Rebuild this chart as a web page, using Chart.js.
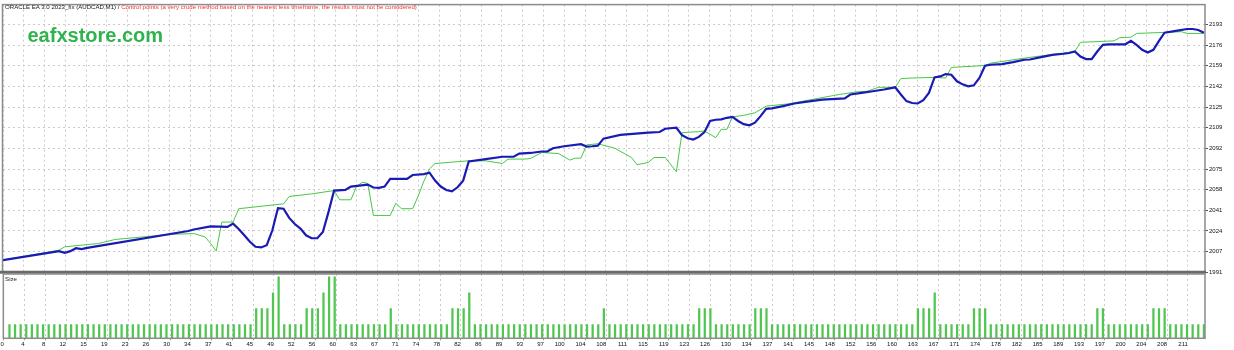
<!DOCTYPE html>
<html>
<head>
<meta charset="utf-8">
<script src="https://cdn.jsdelivr.net/npm/chart.js@4.4.1/dist/chart.umd.min.js"></script>
<style>
  html, body { margin: 0; padding: 0; background: #fff; }
  #wrap { position: relative; width: 1234px; height: 350px; overflow: hidden; font-family: "Liberation Sans", Arial, sans-serif; }
  #main { position: absolute; left: 0; top: 0; }
  #size { position: absolute; left: 0; top: 272px; }
  .title { position: absolute; left: 5px; top: 4px; font-size: 6.1px; line-height: 6.1px; white-space: nowrap; color: #222; }
  .title .red { color: #ee3333; }
  .brand { position: absolute; left: 27.5px; top: 25px; font: bold 20px/20px "Liberation Sans", Arial, sans-serif; color: #2fb34c; }
  .size-label { position: absolute; left: 5px; top: 276px; font-size: 6.2px; line-height: 6.2px; color: #222; }
</style>
</head>
<body>
<div id="wrap">
  <canvas id="main" width="1234" height="280"></canvas>
  <canvas id="size" width="1234" height="78"></canvas>
  <div class="title">ORACLE EA 3.0 2023_fix (AUDCAD,M1) / <span class="red">Control points (a very crude method based on the nearest less timeframe, the results must not be considered)</span></div>
  <div class="brand">eafxstore.com</div>
  <div class="size-label">Size</div>
</div>
<script>
// balance curve (trade number -> balance)
const balanceTrade = [0, 10, 11, 12, 13, 14, 15, 33, 34, 37, 40, 41, 42, 43, 44, 45, 46, 47, 48, 49,
  50, 51, 52, 53, 54, 55, 56, 57, 58, 59, 61, 62, 65, 66, 67, 68, 69, 72, 73, 75,
  76, 77, 78, 79, 80, 81, 82, 83, 86, 89, 91, 92, 94, 95, 96, 97, 98, 100, 103, 104,
  105, 106, 107, 110, 115, 117, 118, 120, 121, 122, 123, 124, 125, 126, 127, 128, 129, 130, 131, 132,
  133, 134, 135, 136, 137, 139, 141, 143, 146, 150, 151, 153, 155, 157, 159, 160, 161, 162, 163, 164,
  165, 166, 167, 168, 169, 170, 171, 172, 173, 174, 175, 176, 178, 180, 182, 183, 185, 187, 189, 190,
  191, 192, 193, 194, 195, 196, 197, 200, 201, 202, 203, 204, 205, 206, 207, 209, 211, 212, 213, 214];
const balanceValue = [2000.6, 2007.9, 2006.5, 2007.9, 2010.3, 2009.5, 2010.5, 2024.3, 2025.5, 2028.1, 2027.6, 2030.3, 2026.0, 2020.8, 2015.5, 2011.4, 2010.9, 2012.7, 2024.9, 2043.0,
  2042.5, 2035.0, 2030.0, 2026.3, 2020.8, 2018.4, 2018.4, 2023.5, 2039.7, 2057.3, 2057.9, 2060.6, 2062.2, 2059.8, 2059.5, 2060.6, 2066.8, 2066.8, 2070.0, 2070.8,
  2071.9, 2065.5, 2060.6, 2057.8, 2056.7, 2060.0, 2065.4, 2081.1, 2083.0, 2084.9, 2084.9, 2087.5, 2088.0, 2088.6, 2089.2, 2089.2, 2091.9, 2093.5, 2095.2, 2093.2,
  2093.5, 2094.0, 2099.7, 2102.7, 2104.6, 2105.1, 2107.8, 2108.6, 2102.5, 2100.0, 2098.9, 2101.1, 2105.0, 2114.1, 2115.1, 2115.4, 2116.7, 2117.5, 2114.1, 2111.5,
  2110.6, 2112.7, 2118.1, 2124.0, 2124.4, 2126.2, 2128.4, 2129.7, 2131.6, 2132.5, 2135.7, 2137.0, 2138.4, 2139.8, 2141.6, 2135.7, 2130.3, 2128.8, 2128.4, 2131.1,
  2137.0, 2149.7, 2150.5, 2152.4, 2151.9, 2146.5, 2144.0, 2142.4, 2143.2, 2149.2, 2159.2, 2160.0, 2160.5, 2162.1, 2164.1, 2164.3, 2166.2, 2168.1, 2169.0, 2169.6,
  2170.8, 2166.7, 2164.6, 2164.6, 2170.8, 2176.2, 2176.7, 2176.7, 2179.5, 2176.2, 2172.2, 2170.0, 2172.2, 2179.5, 2186.2, 2187.6, 2189.2, 2189.2, 2188.4, 2186.2];

// equity curve
const equityTrade = [0, 10, 11, 17, 20, 30, 34, 36, 37, 38, 39, 41, 42, 50, 51, 55, 59, 60, 62, 63,
  64, 65, 66, 69, 70, 71, 73, 74, 75, 76, 77, 83, 86, 89, 90, 93, 94, 96, 99, 101,
  102, 103, 104, 106, 109, 112, 113, 115, 116, 118, 120, 121, 124, 125, 127, 128, 129, 130, 132, 134,
  136, 140, 148, 149, 152, 154, 156, 159, 160, 162, 166, 168, 169, 175, 176, 182, 191, 192, 198, 199,
  201, 202, 207, 210, 211, 214];
const equityValue = [2000.6, 2008.7, 2011.4, 2014.1, 2017.4, 2021.6, 2022.2, 2019.5, 2014.1, 2007.9, 2031.6, 2031.6, 2042.5, 2046.5, 2052.5, 2054.6, 2057.3, 2049.8, 2049.8, 2060.6,
  2064.0, 2063.2, 2037.0, 2037.0, 2047.0, 2042.5, 2042.5, 2053.0, 2065.0, 2075.0, 2079.4, 2081.6, 2081.6, 2079.4, 2083.0, 2083.0, 2083.5, 2088.4, 2087.5, 2082.2,
  2083.8, 2083.8, 2094.6, 2095.5, 2091.9, 2084.3, 2078.4, 2080.3, 2084.3, 2084.3, 2072.7, 2104.6, 2105.4, 2106.0, 2100.5, 2107.3, 2107.3, 2117.5, 2118.7, 2120.8,
  2126.2, 2128.1, 2134.9, 2135.7, 2137.8, 2138.4, 2141.6, 2141.6, 2148.7, 2149.2, 2149.7, 2149.2, 2157.8, 2159.4, 2161.3, 2165.4, 2170.8, 2178.3, 2179.5, 2182.1,
  2182.5, 2185.6, 2186.4, 2187.0, 2185.6, 2185.6];

// lot size of trades 1..214
const sizeLots = [
  0.01, 0.01, 0.01, 0.01, 0.01, 0.01, 0.01, 0.01, 0.01, 0.01, 0.01, 0.01, 0.01, 0.01, 0.01, 0.01, 0.01, 0.01, 0.01, 0.01,
  0.01, 0.01, 0.01, 0.01, 0.01, 0.01, 0.01, 0.01, 0.01, 0.01, 0.01, 0.01, 0.01, 0.01, 0.01, 0.01, 0.01, 0.01, 0.01, 0.01,
  0.01, 0.01, 0.01, 0.01, 0.02, 0.02, 0.02, 0.03, 0.04, 0.01, 0.01, 0.01, 0.01, 0.02, 0.02, 0.02, 0.03, 0.04, 0.04, 0.01,
  0.01, 0.01, 0.01, 0.01, 0.01, 0.01, 0.01, 0.01, 0.02, 0.01, 0.01, 0.01, 0.01, 0.01, 0.01, 0.01, 0.01, 0.01, 0.01, 0.02,
  0.02, 0.02, 0.03, 0.01, 0.01, 0.01, 0.01, 0.01, 0.01, 0.01, 0.01, 0.01, 0.01, 0.01, 0.01, 0.01, 0.01, 0.01, 0.01, 0.01,
  0.01, 0.01, 0.01, 0.01, 0.01, 0.01, 0.02, 0.01, 0.01, 0.01, 0.01, 0.01, 0.01, 0.01, 0.01, 0.01, 0.01, 0.01, 0.01, 0.01,
  0.01, 0.01, 0.01, 0.02, 0.02, 0.02, 0.01, 0.01, 0.01, 0.01, 0.01, 0.01, 0.01, 0.02, 0.02, 0.02, 0.01, 0.01, 0.01, 0.01,
  0.01, 0.01, 0.01, 0.01, 0.01, 0.01, 0.01, 0.01, 0.01, 0.01, 0.01, 0.01, 0.01, 0.01, 0.01, 0.01, 0.01, 0.01, 0.01, 0.01,
  0.01, 0.01, 0.02, 0.02, 0.02, 0.03, 0.01, 0.01, 0.01, 0.01, 0.01, 0.01, 0.02, 0.02, 0.02, 0.01, 0.01, 0.01, 0.01, 0.01,
  0.01, 0.01, 0.01, 0.01, 0.01, 0.01, 0.01, 0.01, 0.01, 0.01, 0.01, 0.01, 0.01, 0.01, 0.02, 0.02, 0.01, 0.01, 0.01, 0.01,
  0.01, 0.01, 0.01, 0.01, 0.02, 0.02, 0.02, 0.01, 0.01, 0.01, 0.01, 0.01, 0.01, 0.01];

const xTickLabels = ['0', '4', '8', '12', '15', '19', '23', '26', '30', '34', '37', '41', '45', '49', '52', '56', '60', '63', '67', '71',
  '74', '78', '82', '86', '89', '93', '97', '100', '104', '108', '111', '115', '119', '123', '126', '130', '134', '137', '141', '145',
  '148', '152', '156', '160', '163', '167', '171', '174', '178', '182', '185', '189', '193', '197', '200', '204', '208', '211'];
const yTickValues = [1990.6, 2007.46, 2024.32, 2041.18, 2058.04, 2074.9, 2091.76, 2108.62, 2125.48, 2142.34, 2159.2, 2176.06, 2192.92];
const yTickLabels = ['1991', '2007', '2024', '2041', '2058', '2075', '2092', '2109', '2125', '2142', '2159', '2176', '2193'];

const X_MAX = 214.2;
const X_GRID_STEP = 3.7044;
const GRID = '#cdc8cd';
const FONT = { family: '"Liberation Sans", Arial, sans-serif', size: 6 };

const zip = (xs, ys) => xs.map((x, i) => ({ x, y: ys[i] }));

const framePlugin = {
  id: 'frame',
  afterDraw(chart, args, opts) {
    const { ctx, chartArea: a } = chart;
    ctx.save();
    ctx.strokeStyle = '#8c8c8c';
    ctx.lineWidth = 1.5;
    ctx.strokeRect(a.left - 0.5, a.top, a.right - a.left + 0.5, a.bottom - a.top);
    if (opts.separator) {
      ctx.strokeStyle = '#6a6a6a';
      ctx.lineWidth = 3;
      ctx.beginPath();
      ctx.moveTo(0, a.bottom);
      ctx.lineTo(a.right + 1, a.bottom);
      ctx.stroke();
    }
    ctx.restore();
  },
};

function xScale(showLabels) {
  return {
    type: 'linear',
    min: 0,
    max: X_MAX,
    offset: false,
    afterBuildTicks: (axis) => {
      axis.ticks = xTickLabels.map((_, k) => ({ value: k * X_GRID_STEP }));
    },
    ticks: {
      display: showLabels,
      autoSkip: false,
      maxRotation: 0,
      align: 'end',
      color: '#111',
      font: FONT,
      padding: 0.5,
      callback: (v, i) => xTickLabels[i],
    },
    grid: {
      color: GRID,
      offset: false,
      drawTicks: showLabels,
      tickLength: 2,
      tickColor: '#999',
      tickBorderDash: [],
    },
    border: { display: false, dash: [2, 3] },
    afterFit: (s) => { s.height = showLabels ? 11.7 : 0; },
  };
}

new Chart(document.getElementById('main'), {
  type: 'line',
  data: {
    datasets: [
      {
        label: 'Balance',
        data: zip(balanceTrade, balanceValue),
        borderColor: '#1a1ab4',
        borderWidth: 2.2,
        pointRadius: 0,
        tension: 0,
        order: 0,
      },
      {
        label: 'Equity',
        data: zip(equityTrade, equityValue),
        borderColor: '#45c845',
        borderWidth: 1,
        pointRadius: 0,
        tension: 0,
        order: 1,
      },
    ],
  },
  options: {
    responsive: false,
    animation: false,
    events: [],
    layout: { padding: { left: 3, top: 3, right: 0, bottom: 7.7 } },
    plugins: { legend: { display: false }, tooltip: { enabled: false }, frame: { separator: true } },
    scales: {
      x: xScale(false),
      y: {
        position: 'right',
        min: 1990.6,
        max: 2209.1,
        afterBuildTicks: (axis) => {
          axis.ticks = yTickValues.map((v) => ({ value: v }));
        },
        ticks: { color: '#111', font: FONT, padding: 1, callback: (v, i) => yTickLabels[i] },
        grid: { color: GRID, tickLength: 3, tickColor: '#555', tickBorderDash: [] },
        border: { display: false, dash: [2, 3] },
        afterFit: (s) => { s.width = 29; },
      },
    },
  },
  plugins: [framePlugin],
});

new Chart(document.getElementById('size'), {
  type: 'bar',
  data: {
    datasets: [{
      label: 'Size',
      data: sizeLots.map((v, i) => ({ x: i + 1, y: v })),
      backgroundColor: '#50c650',
      barThickness: 1.6,
      borderWidth: 0,
    }],
  },
  options: {
    responsive: false,
    animation: false,
    events: [],
    layout: { padding: { left: 3, top: 2, right: 0, bottom: 0 } },
    plugins: { legend: { display: false }, tooltip: { enabled: false }, frame: { separator: false } },
    scales: {
      x: xScale(true),
      y: {
        position: 'right',
        min: 0.00138,
        max: 0.04175,
        ticks: { display: false },
        grid: { display: false },
        border: { display: false },
        afterFit: (s) => { s.width = 29; },
      },
    },
  },
  plugins: [framePlugin],
});
</script>
</body>
</html>
